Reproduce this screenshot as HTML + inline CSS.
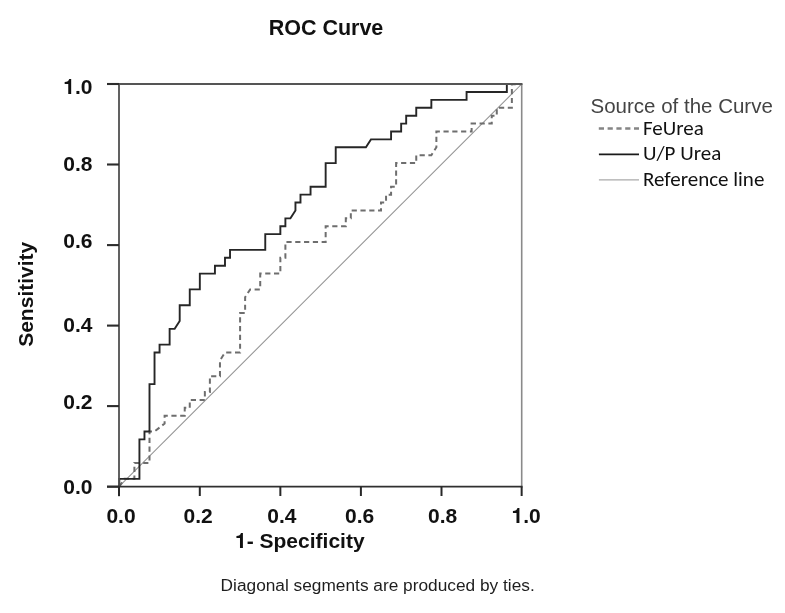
<!DOCTYPE html>
<html><head><meta charset="utf-8"><title>ROC Curve</title>
<style>
html,body{margin:0;padding:0;background:#fff;}
body{width:785px;height:613px;overflow:hidden;}
svg{display:block;}
text{fill:#111;}
.b{font-family:"Liberation Sans",Arial,sans-serif;font-weight:bold;}
.r{font-family:"Liberation Sans",Arial,sans-serif;}
.h{font-family:"TeX Gyre Heros","Liberation Sans",Arial,sans-serif;}
.c{font-family:Carlito,Calibri,"Liberation Sans",sans-serif;}
</style></head><body>
<svg width="785" height="613" viewBox="0 0 785 613">
<rect width="785" height="613" fill="#fff"/>
<text x="326" y="35.3" class="b" font-size="21.5" text-anchor="middle">ROC Curve</text>
<line x1="119.0" y1="486.7" x2="521.7" y2="84.0" stroke="#949494" stroke-width="1.05"/>
<path d="M119.30 486.75 L124.33 478.86 L134.40 478.86 L134.40 463.07 L149.50 463.07 L149.50 431.49 L154.53 431.49 L164.60 423.59 L164.60 415.70 L184.73 415.70 L184.73 407.81 L189.76 407.81 L189.76 399.91 L204.86 399.91 L204.86 392.02 L209.89 392.02 L209.89 376.23 L219.96 376.23 L219.96 360.44 L224.99 352.54 L240.09 352.54 L240.09 313.07 L245.12 313.07 L245.12 297.28 L250.16 289.39 L260.22 289.39 L260.22 273.60 L280.36 273.60 L280.36 257.81 L285.39 257.81 L285.39 242.02 L325.65 242.02 L325.65 226.23 L345.79 226.23 L345.79 218.34 L350.82 218.34 L350.82 210.44 L381.02 210.44 L381.02 202.55 L386.05 202.55 L386.05 194.65 L391.08 194.65 L391.08 186.76 L396.12 186.76 L396.12 163.08 L416.25 163.08 L416.25 155.18 L431.35 155.18 L436.38 147.29 L436.38 131.50 L471.61 131.50 L471.61 123.60 L491.74 123.60 L491.74 115.71 L496.78 115.71 L496.78 107.81 L511.87 107.81 L511.87 84.13 L521.7 84.13" fill="none" stroke="#6e6e6e" stroke-width="2" stroke-dasharray="5.2 3.6"/>
<path d="M119.30 486.75 L119.30 478.86 L139.43 478.86 L139.43 439.38 L144.47 439.38 L144.47 431.49 L149.50 431.49 L149.50 384.12 L154.53 384.12 L154.53 352.54 L159.56 352.54 L159.56 344.65 L169.63 344.65 L169.63 328.86 L174.66 328.86 L179.70 320.97 L179.70 305.18 L189.76 305.18 L189.76 289.39 L199.83 289.39 L199.83 273.60 L214.93 273.60 L214.93 265.70 L224.99 265.70 L224.99 257.81 L230.03 257.81 L230.03 249.91 L265.26 249.91 L265.26 234.13 L280.36 234.13 L280.36 226.23 L285.39 226.23 L285.39 218.34 L290.42 218.34 L295.45 210.44 L295.45 202.55 L300.49 202.55 L300.49 194.65 L310.55 194.65 L310.55 186.76 L325.65 186.76 L325.65 163.08 L335.72 163.08 L335.72 147.29 L365.92 147.29 L370.95 139.39 L391.08 139.39 L391.08 131.50 L401.15 131.50 L401.15 123.60 L406.18 123.60 L406.18 115.71 L416.25 115.71 L416.25 107.81 L431.35 107.81 L431.35 99.92 L466.58 99.92 L466.58 92.03 L506.84 92.03 L506.84 84.13 L521.7 84.13" fill="none" stroke="#262626" stroke-width="1.9"/>
<line x1="521.7" y1="84.0" x2="521.7" y2="486.7" stroke="#8a8a8a" stroke-width="1.6"/>
<line x1="119.0" y1="84.0" x2="522.5" y2="84.0" stroke="#555" stroke-width="1.8"/>
<line x1="119.0" y1="83.1" x2="119.0" y2="496.2" stroke="#505050" stroke-width="1.8"/>
<line x1="107.0" y1="486.7" x2="522.6" y2="486.7" stroke="#303030" stroke-width="1.8"/>
<line x1="107.0" y1="84.0" x2="119.0" y2="84.0" stroke="#2c2c2c" stroke-width="2.1"/>
<text x="92.5" y="94.15" class="b" font-size="21" text-anchor="end"><tspan class="h">1</tspan>.0</text>
<line x1="107.0" y1="164.5" x2="119.0" y2="164.5" stroke="#2c2c2c" stroke-width="2.1"/>
<text x="92.5" y="170.8" class="b" font-size="21" text-anchor="end">0.8</text>
<line x1="107.0" y1="245.1" x2="119.0" y2="245.1" stroke="#2c2c2c" stroke-width="2.1"/>
<text x="92.5" y="247.5" class="b" font-size="21" text-anchor="end">0.6</text>
<line x1="107.0" y1="325.6" x2="119.0" y2="325.6" stroke="#2c2c2c" stroke-width="2.1"/>
<text x="92.5" y="332.3" class="b" font-size="21" text-anchor="end">0.4</text>
<line x1="107.0" y1="406.1" x2="119.0" y2="406.1" stroke="#2c2c2c" stroke-width="2.1"/>
<text x="92.5" y="408.7" class="b" font-size="21" text-anchor="end">0.2</text>
<line x1="107.0" y1="486.7" x2="119.0" y2="486.7" stroke="#2c2c2c" stroke-width="2.1"/>
<text x="92.5" y="494.05" class="b" font-size="21" text-anchor="end">0.0</text>
<line x1="119.0" y1="486.7" x2="119.0" y2="496.0" stroke="#282828" stroke-width="2"/>
<text x="121.05" y="522.6" class="b" font-size="21" text-anchor="middle">0.0</text>
<line x1="199.8" y1="486.7" x2="199.8" y2="496.0" stroke="#282828" stroke-width="2"/>
<text x="198.15" y="522.6" class="b" font-size="21" text-anchor="middle">0.2</text>
<line x1="280.35" y1="486.7" x2="280.35" y2="496.0" stroke="#282828" stroke-width="2"/>
<text x="281.95" y="522.6" class="b" font-size="21" text-anchor="middle">0.4</text>
<line x1="360.9" y1="486.7" x2="360.9" y2="496.0" stroke="#282828" stroke-width="2"/>
<text x="359.70" y="522.6" class="b" font-size="21" text-anchor="middle">0.6</text>
<line x1="441.5" y1="486.7" x2="441.5" y2="496.0" stroke="#282828" stroke-width="2"/>
<text x="442.60" y="522.6" class="b" font-size="21" text-anchor="middle">0.8</text>
<line x1="521.65" y1="486.7" x2="521.65" y2="496.0" stroke="#282828" stroke-width="2"/>
<text x="526.15" y="522.6" class="b" font-size="21" text-anchor="middle"><tspan class="h">1</tspan>.0</text>
<text x="299.8" y="547.5" class="b" font-size="21" text-anchor="middle"><tspan class="h">1</tspan>- Specificity</text>
<text transform="translate(32.8 294.3) rotate(-90)" class="b" font-size="21" text-anchor="middle">Sensitivity</text>
<text x="220.6" y="590.6" class="r" font-size="17.3" style="fill:#1e1e1e">Diagonal segments are produced by ties.</text>
<text x="590.5" y="112.5" class="r" font-size="20.5" style="fill:#444">Source of the Curve</text>
<line x1="598.8" y1="128.4" x2="639" y2="128.4" stroke="#858585" stroke-width="2.5" stroke-dasharray="5.2 3.6"/>
<line x1="598.9" y1="154.4" x2="639" y2="154.4" stroke="#1a1a1a" stroke-width="1.8"/>
<line x1="598.9" y1="179.9" x2="639" y2="179.9" stroke="#aaa" stroke-width="1.4"/>
<text x="643" y="134.6" class="c" font-size="21">FeUrea</text>
<text x="643" y="160.1" class="c" font-size="21">U/P Urea</text>
<text x="643" y="185.6" class="c" font-size="21">Reference line</text>
</svg>
</body></html>
